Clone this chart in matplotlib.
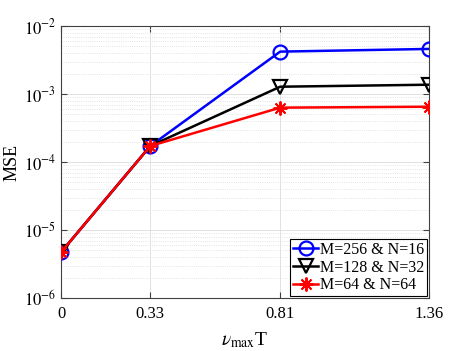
import matplotlib
matplotlib.use("Agg")
import matplotlib.pyplot as plt
import numpy as np

x_vals = [0, 0.33, 0.81, 1.36]
x_labels = ["0", "0.33", "0.81", "1.36"]
mse_256_16 = [4.7e-6, 1.72e-4, 4.2e-3, 4.6e-3]
mse_128_32 = [4.7e-6, 1.72e-4, 1.28e-3, 1.37e-3]
mse_64_64 = [4.7e-6, 1.72e-4, 6.3e-4, 6.5e-4]
labels = ["M=256 & N=16", "M=128 & N=32", "M=64 & N=64"]

plt.rcParams['font.family'] = ['Liberation Serif', 'DejaVu Serif']
plt.rcParams['mathtext.fontset'] = 'stix'

fig = plt.figure(figsize=(4.74, 3.51), dpi=100)
ax = fig.add_axes([61/474, 53/351, 368/474, 272/351])

ax.plot(x_vals, mse_256_16, color='#0000ff', lw=1.8, marker='o', ms=10,
        mfc='none', mew=1.6, label=labels[0], zorder=3)
ax.plot(x_vals, mse_128_32, color='black', lw=1.8, marker='v', ms=10,
        mfc='none', mew=1.6, label=labels[1], zorder=4)
ax.plot(x_vals, mse_64_64, color='#ff0000', lw=1.8, marker=(8, 2, 0), ms=10,
        mew=1.4, label=labels[2], zorder=5)

ax.set_yscale('log')
ax.set_ylim(1e-6, 1e-2)
ax.set_xlim(0, 1.36)
ax.set_xticks(x_vals)
ax.set_xticklabels(x_labels)
ax.set_yticks([1e-6, 1e-5, 1e-4, 1e-3, 1e-2])
ax.set_yticklabels([r'$10^{-6}$', r'$10^{-5}$', r'$10^{-4}$', r'$10^{-3}$', r'$10^{-2}$'])

ax.grid(True, which='major', color='#dcdcdc', lw=0.6, ls='-')
ax.grid(True, which='minor', color='#dcdcdc', lw=0.6, ls=':')
ax.set_axisbelow(True)

ax.tick_params(which='both', direction='in', top=True, right=True,
               labelsize=12, color='#404040')
ax.tick_params(which='minor', length=0)
ax.tick_params(which='major', length=4)
ax.tick_params(axis='x', pad=6)
for s in ax.spines.values():
    s.set_color('#404040')
    s.set_linewidth(0.8)

ax.set_ylabel('MSE', fontsize=13, labelpad=2)
ax.set_xlabel(r'$\nu_{\mathrm{max}}$T', fontsize=14, labelpad=6)

leg = ax.legend(loc='lower right', fontsize=11.5, fancybox=False,
                edgecolor='black', framealpha=1, borderaxespad=0.1,
                handlelength=1.6, handletextpad=0.1, labelspacing=0.1,
                borderpad=0.2)
leg.get_frame().set_linewidth(0.8)

fig.savefig('out.png', dpi=100)
